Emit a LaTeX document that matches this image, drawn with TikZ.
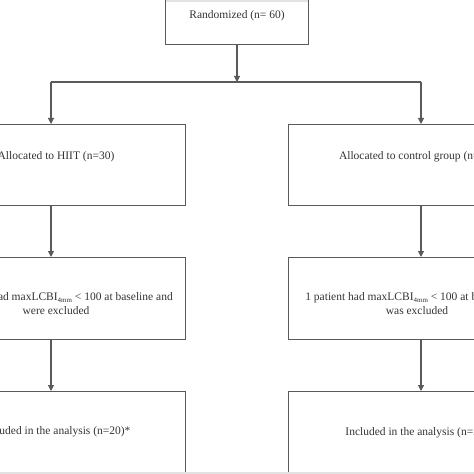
\documentclass[tikz,border=0pt]{standalone}
\usepackage{fontspec}
\setmainfont{Liberation Serif}
\usetikzlibrary{arrows.meta}
\definecolor{linegray}{HTML}{5A5A5A}
\definecolor{textgray}{HTML}{333333}
\definecolor{bandgray}{HTML}{E2E2E2}
\newcommand{\subfm}{\raisebox{-1.8bp}{\fontsize{7}{8}\selectfont 4mm}}
\begin{document}
\begin{tikzpicture}[x=1bp,y=-1bp,
  box/.style={draw=linegray,line width=1.1bp,minimum width=258bp,inner sep=0pt,anchor=north west},
  txt/.style={text=textgray,font=\fontsize{11.5bp}{14bp}\selectfont,align=center,inner sep=0pt},
  conn/.style={draw=linegray,line width=1.1bp},
  arr/.style={conn,-{Triangle[length=6bp,width=6bp]}}]
\useasboundingbox (0,0) rectangle (474,474);
\clip (0,0) rectangle (474,474);
% boxes
\node[box,minimum width=143bp,minimum height=64bp] (top) at (165,-20) {};
\node[box,minimum height=81bp] (l2) at (-73,124) {};
\node[box,minimum height=81bp] (r2) at (288,124) {};
\node[box,minimum height=82bp] (l3) at (-73,257) {};
\node[box,minimum height=82bp] (r3) at (288,257) {};
\node[box,minimum height=90bp] (l4) at (-73,391) {};
\node[box,minimum height=90bp] (r4) at (288,391) {};
% texts
\node[txt] (ttop) at (237,16) {Randomized (n= 60)};
\node[txt] (tl2) at (56,157) {Allocated to HIIT (n=30)};
\node[txt] (tr2) at (417,157) {Allocated to control group (n=30)};
\node[txt] (tl3) at (56,304) {10 patients had maxLCBI\subfm\ {<} 100 at baseline and\\were excluded};
\node[txt] (tr3) at (417,304) {1 patient had maxLCBI\subfm\ {<} 100 at baseline and\\was excluded};
\node[txt] (tl4) at (56,432) {Included in the analysis (n=20)*};
\node[txt] (tr4) at (417,433) {Included in the analysis (n=29)};
% connectors
\coordinate (jm) at (237,82);
\coordinate (jl) at (51,82);
\coordinate (jr) at (421,82);
\draw[arr] (top.south -| jm) -- (jm);
\draw[conn] (jl) -- (jr);
\draw[arr] (jl) -- (jl |- l2.north);
\draw[arr] (jr) -- (jr |- r2.north);
\draw[arr] (l2.south -| jl) -- (l3.north -| jl);
\draw[arr] (r2.south -| jr) -- (r3.north -| jr);
\draw[arr] (l3.south -| jl) -- (l4.north -| jl);
\draw[arr] (r3.south -| jr) -- (r4.north -| jr);
% scan bands
\fill[bandgray] (166,0) rectangle (308,2);
\fill[bandgray] (0,472) rectangle (474,474);
\end{tikzpicture}
\end{document}
